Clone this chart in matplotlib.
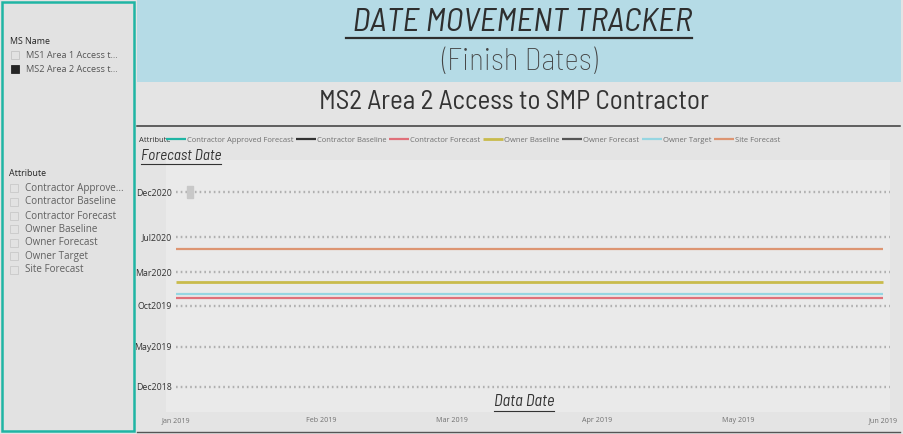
import matplotlib
matplotlib.use("Agg")
import matplotlib.pyplot as plt
import matplotlib.dates as mdates
from matplotlib import font_manager as fm
from matplotlib.patches import Rectangle
from matplotlib.lines import Line2D
import pandas as pd

# ---------------- data ----------------
ms_names = ["MS1 Area 1 Access t...", "MS2 Area 2 Access t..."]
ms_selected = [False, True]
attributes = ["Contractor Approved Forecast", "Contractor Baseline", "Contractor Forecast",
              "Owner Baseline", "Owner Forecast", "Owner Target", "Site Forecast"]
attribute_slicer_labels = ["Contractor Approve...", "Contractor Baseline", "Contractor Forecast",
                           "Owner Baseline", "Owner Forecast", "Owner Target", "Site Forecast"]
attribute_colors = ["#1fb5a4", "#333333", "#e0707a", "#c9bb4c", "#555555", "#96d6e2", "#dd9572"]

data_dates = ["2019-01-01", "2019-02-01", "2019-03-01", "2019-04-01", "2019-05-01", "2019-06-01"]
contractor_approved_forecast = [None, None, None, None, None, None]
contractor_baseline = [None, None, None, None, None, None]
contractor_forecast = ["2019-10-31", "2019-10-31", "2019-10-31", "2019-10-31", "2019-10-31", "2019-10-31"]
owner_baseline = ["2019-12-30", "2019-12-30", "2019-12-30", "2019-12-30", "2019-12-30", "2019-12-30"]
owner_forecast = [None, None, None, None, None, None]
owner_target = ["2019-11-15", "2019-11-15", "2019-11-15", "2019-11-15", "2019-11-15", "2019-11-15"]
site_forecast = ["2020-05-02", "2020-05-02", "2020-05-02", "2020-05-02", "2020-05-02", "2020-05-02"]

marker_dates = ["2019-01-04"]
marker_values = ["2020-12-01"]

y_tick_dates = ["2018-12-01", "2019-05-01", "2019-10-01", "2020-02-05", "2020-06-16", "2020-12-01"]
y_tick_labels = ["Dec2018", "May2019", "Oct2019", "Mar2020", "Jul2020", "Dec2020"]
x_tick_dates = ["2019-01-01", "2019-02-01", "2019-03-01", "2019-04-01", "2019-05-01", "2019-06-01"]
x_tick_labels = ["Jan 2019", "Feb 2019", "Mar 2019", "Apr 2019", "May 2019", "Jun 2019"]

title = " DATE MOVEMENT TRACKER"
subtitle = "(Finish Dates)"
chart_title = "MS2 Area 2 Access to SMP Contractor"

# ---------------- fonts ----------------
avail = {f.name for f in fm.fontManager.ttflist}


def pick(*cands):
    for c in cands:
        if c in avail:
            return c
    return "DejaVu Sans"


ui_font = pick("Segoe UI", "Selawik", "Open Sans", "Noto Sans", "Lato")
din_font = pick("D-DIN", "DIN Alternate", "Barlow Semi Condensed", "Roboto Condensed",
                "Open Sans Condensed", "DejaVu Sans Condensed", "Liberation Sans Narrow", "Roboto")

# ---------------- figure ----------------
W, H = 904, 434
fig = plt.figure(figsize=(W / 100, H / 100), dpi=100, facecolor="#e4e4e4")


def fx(x):
    return x / W


def fy(y):
    return 1 - y / H


def rect(x0, y0, x1, y1, zorder=-2, **kw):
    fig.patches.append(Rectangle((fx(x0), fy(y1)), (x1 - x0) / W, (y1 - y0) / H,
                                 transform=fig.transFigure, figure=fig, zorder=zorder, **kw))


def hline(x0, x1, y, **kw):
    fig.lines.append(Line2D([fx(x0), fx(x1)], [fy(y), fy(y)], transform=fig.transFigure, figure=fig, **kw))


renderer = fig.canvas.get_renderer()


def fit(t, target_w):
    bb = t.get_window_extent(renderer=renderer)
    t.set_fontsize(t.get_fontsize() * target_w / bb.width)


def underline(t, dy=1.5, lw=1.0, color="#333333"):
    bb = t.get_window_extent(renderer=renderer)
    y = H - bb.y0 + dy
    hline(bb.x0, bb.x1, y, color=color, lw=lw)


# left slicer panel
rect(2, 2, 134, 431, facecolor="#e2e2e2", edgecolor="#1fb5a4", lw=1.8, zorder=1)
# banner
rect(137, 0, 901, 82, facecolor="#b5dbe6", edgecolor="none")
hline(137, 900, 126, color="#3a3a3a", lw=1.1)
hline(137, 900, 432, color="#555555", lw=1.0)
# plot area lighter background
rect(166, 160, 890, 412, facecolor="#eaeaea", edgecolor="none")

# titles
t = fig.text(fx(519), fy(23), title, ha="center", va="center", fontsize=24, style="italic",
             family=din_font, color="#2e2e2e")
fit(t, 346)
underline(t, dy=0.0, lw=1.6, color="#2e2e2e")
t = fig.text(fx(519), fy(62), subtitle, ha="center", va="center", fontsize=17,
             fontweight="light", family=din_font, color="#444444")
fit(t, 157)
t = fig.text(fx(514), fy(102), chart_title, ha="center", va="center", fontsize=13,
             family=din_font, color="#333333")
fit(t, 389)

# slicer: MS Name
fs_sl = 6.4
fig.text(fx(10), fy(41), "MS Name", fontsize=fs_sl, family=ui_font, color="#252525", va="center")
for i, (nm, sel) in enumerate(zip(ms_names, ms_selected)):
    y = 55 + 14 * i
    rect(11, y - 4, 19, y + 4, zorder=2, facecolor="#252525" if sel else "none",
         edgecolor="#252525" if sel else "#c4c4c4", lw=0.6)
    t = fig.text(fx(26), fy(y), nm, fontsize=fs_sl, family=ui_font,
                 color="#555555", va="center")
    fit(t, 92)

# slicer: Attribute
fig.text(fx(9), fy(174), "Attribute", fontsize=fs_sl, family=ui_font, color="#252525", va="center")
att_y = [188, 202, 216, 229, 243, 256, 270]
for j, (lab, y) in enumerate(zip(attribute_slicer_labels, att_y)):
    rect(10, y - 4, 18, y + 4, zorder=2, facecolor="none", edgecolor="#c8c8c8", lw=0.6)
    t = fig.text(fx(25), fy(y), lab, fontsize=fs_sl, family=ui_font, color="#606060", va="center")
    if j == 0:
        fit(t, 99)
        fs_att = t.get_fontsize()
    else:
        t.set_fontsize(fs_att)

# ---------------- axes ----------------
ax_l, ax_r, ax_t, ax_b = 176, 890, 180, 398
ax = fig.add_axes([fx(ax_l), fy(ax_b), (ax_r - ax_l) / W, (ax_b - ax_t) / H])
ax.set_facecolor("none")
ax.set_zorder(0)

x0 = mdates.date2num(pd.Timestamp("2019-01-01"))
x1 = mdates.date2num(pd.Timestamp("2019-06-01"))
pxd = (883 - 176) / (x1 - x0)
ax.set_xlim(x0 - (176 - ax_l) / pxd, x1 + (ax_r - 883) / pxd)

yb = mdates.date2num(pd.Timestamp("2018-12-01"))
yt = mdates.date2num(pd.Timestamp("2020-12-01"))
k = (387 - 192) / (yt - yb)
ax.set_ylim(yb - (ax_b - 387) / k, yt + (192 - ax_t) / k)


def to_num(vals):
    return [mdates.date2num(pd.Timestamp(v)) if v is not None else float("nan") for v in vals]


xd = to_num(data_dates)
series = [contractor_approved_forecast, contractor_baseline, contractor_forecast,
          owner_baseline, owner_forecast, owner_target, site_forecast]
for name, vals, col in zip(attributes, series, attribute_colors):
    lw = 2.0 if name == "Owner Baseline" else 1.6
    ax.plot(xd, to_num(vals), color=col, lw=lw, label=name, solid_capstyle="butt")

tall_box = [(-0.5, -1.0), (0.5, -1.0), (0.5, 1.0), (-0.5, 1.0), (-0.5, -1.0)]
ax.plot(to_num(marker_dates), to_num(marker_values), marker=tall_box, ms=8, color="#c8c8c8",
        linestyle="none", zorder=1)

ax.set_yticks(to_num(y_tick_dates))
ax.set_yticklabels(y_tick_labels, fontsize=6.3, family=ui_font, color="#333333")
ax.set_xticks(to_num(x_tick_dates))
ax.set_xticklabels(x_tick_labels, fontsize=5.1, family=ui_font, color="#707070")
ax.tick_params(axis="y", length=0, pad=3)
ax.tick_params(axis="x", length=0, pad=13.5)
ax.yaxis.grid(True, color="#b0b0b0", linestyle=(0, (0.7, 1.3)), linewidth=1.7)
ax.xaxis.grid(False)
ax.set_axisbelow(True)
for s in ax.spines.values():
    s.set_visible(False)

# axis titles
t = fig.text(fx(141), fy(156), "Forecast Date", fontsize=9, style="italic", family=din_font,
             color="#333333", va="center", ha="left")
fit(t, 81)
underline(t, dy=1.0, lw=0.8)
t = fig.text(fx(524), fy(402), "Data Date", fontsize=9, style="italic", family=din_font,
             color="#333333", va="center", ha="center")
fit(t, 61)
underline(t, dy=1.0, lw=0.8)

# legend
fs_leg = 5.5
fig.text(fx(139), fy(140), "Attribute", fontsize=fs_leg, family=ui_font, color="#333333", va="center")
handles, labels = ax.get_legend_handles_labels()
leg = fig.legend(handles, labels, loc="center left", bbox_to_anchor=(fx(166), fy(140.5)),
                 ncol=7, frameon=False, handlelength=2.6, handletextpad=0.15,
                 columnspacing=0.35, borderaxespad=0, borderpad=0,
                 prop={"family": ui_font, "size": fs_leg})
for txt in leg.get_texts():
    txt.set_color("#707070")

fig.savefig("out.png", dpi=100, facecolor=fig.get_facecolor())
